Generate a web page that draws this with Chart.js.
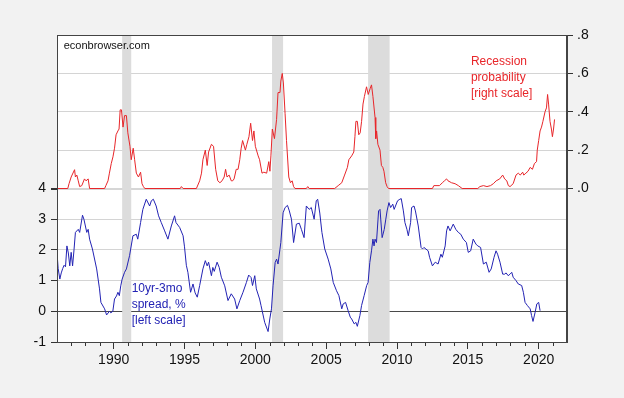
<!DOCTYPE html>
<html>
<head>
<meta charset="utf-8">
<script src="https://cdn.jsdelivr.net/npm/chart.js@4"></script>
<style>
  body { margin: 0; background: #f2f2f2; }
  #wrap { width: 624px; height: 398px; }
</style>
</head>
<body>
<div id="wrap"><canvas id="chart" width="624" height="398"></canvas></div>
<script>
// 10yr-3mo spread (left scale)
var spreadYears = [1986.0, 1986.08, 1986.2, 1986.3, 1986.4, 1986.5, 1986.6, 1986.7, 1986.8, 1986.9,
  1987.0, 1987.1, 1987.2, 1987.3, 1987.5, 1987.6, 1987.8, 1987.9, 1988.1, 1988.2,
  1988.3, 1988.5, 1988.8, 1989.0, 1989.1, 1989.36, 1989.5, 1989.7, 1989.8, 1989.94,
  1990.06, 1990.2, 1990.3, 1990.4, 1990.5, 1990.6, 1990.77, 1990.9, 1991.12, 1991.36,
  1991.6, 1991.7, 1991.9, 1992.06, 1992.3, 1992.54, 1992.66, 1992.8, 1993.0, 1993.17,
  1993.36, 1993.6, 1993.83, 1994.07, 1994.3, 1994.4, 1994.66, 1994.9, 1995.0, 1995.13,
  1995.24, 1995.43, 1995.6, 1995.75, 1995.9, 1996.07, 1996.3, 1996.47, 1996.6, 1996.7,
  1996.9, 1997.0, 1997.1, 1997.3, 1997.45, 1997.6, 1997.84, 1998.07, 1998.3, 1998.54,
  1998.7, 1998.9, 1999.13, 1999.37, 1999.53, 1999.7, 1999.8, 1999.96, 2000.07, 2000.3,
  2000.4, 2000.66, 2000.9, 2001.02, 2001.14, 2001.25, 2001.4, 2001.5, 2001.6, 2001.8,
  2001.96, 2002.1, 2002.27, 2002.4, 2002.55, 2002.7, 2002.9, 2003.1, 2003.25, 2003.44,
  2003.6, 2003.8, 2003.95, 2004.15, 2004.3, 2004.4, 2004.55, 2004.7, 2004.9, 2005.14,
  2005.33, 2005.5, 2005.73, 2005.9, 2006.1, 2006.2, 2006.37, 2006.55, 2006.7, 2006.8,
  2006.98, 2007.1, 2007.2, 2007.38, 2007.5, 2007.68, 2007.86, 2007.96, 2008.08, 2008.2,
  2008.3, 2008.38, 2008.45, 2008.55, 2008.7, 2008.8, 2008.95, 2009.1, 2009.3, 2009.43,
  2009.55, 2009.7, 2009.8, 2010.04, 2010.2, 2010.3, 2010.45, 2010.56, 2010.7, 2010.8,
  2010.96, 2011.03, 2011.2, 2011.3, 2011.5, 2011.7, 2011.8, 2011.9, 2012.2, 2012.3,
  2012.5, 2012.7, 2012.9, 2013.1, 2013.2, 2013.4, 2013.5, 2013.6, 2013.75, 2013.97,
  2014.15, 2014.33, 2014.5, 2014.68, 2014.9, 2015.03, 2015.2, 2015.38, 2015.57, 2015.7,
  2015.9, 2016.1, 2016.3, 2016.5, 2016.65, 2016.85, 2016.99, 2017.1, 2017.27, 2017.46,
  2017.6, 2017.7, 2017.85, 2017.98, 2018.1, 2018.2, 2018.4, 2018.56, 2018.8, 2018.92,
  2019.04, 2019.2, 2019.4, 2019.5, 2019.6, 2019.75, 2019.87, 2020.0, 2020.1];
var spreadValues = [1.92, 1.4, 1.05, 1.25, 1.39, 1.5, 1.45, 2.13, 1.9, 1.48,
  1.92, 1.48, 2.0, 2.57, 2.67, 2.57, 3.13, 3.0, 2.57, 2.67,
  2.35, 2.03, 1.38, 0.73, 0.29, 0.08, -0.12, 0.0, -0.05, 0.0,
  0.40, 0.5, 0.62, 0.51, 0.83, 1.05, 1.27, 1.38, 1.81, 2.46,
  2.51, 2.35, 2.89, 3.32, 3.65, 3.43, 3.6, 3.65, 3.43, 3.11,
  2.89, 2.62, 2.35, 2.78, 3.11, 2.89, 2.73, 2.46, 2.1, 1.5,
  1.27, 0.62, 0.89, 0.6, 0.46, 0.84, 1.38, 1.65, 1.48, 1.6,
  1.16, 1.43, 1.3, 1.6, 1.43, 1.11, 0.83, 0.35, 0.57, 0.40,
  0.08, 0.35, 0.62, 0.94, 1.18, 1.1, 0.84, 1.16, 0.73, 0.40,
  0.19, -0.36, -0.66, -0.25, 0.08, 0.83, 1.59, 1.7, 1.54, 2.24,
  3.21, 3.38, 3.45, 3.27, 3.0, 2.24, 2.84, 2.87, 2.67, 2.4,
  3.43, 3.32, 3.38, 3.0, 3.6, 3.65, 3.2, 2.57, 2.03, 1.7,
  1.38, 0.94, 0.67, 0.51, 0.08, 0.24, 0.29, 0.02, -0.19, -0.25,
  -0.41, -0.36, -0.49, -0.14, 0.19, 0.51, 0.84, 0.94, 1.59, 1.97,
  2.35, 2.13, 2.35, 2.24, 3.27, 3.32, 2.4, 2.67, 3.27, 3.54,
  3.38, 3.49, 3.32, 3.6, 3.65, 3.67, 3.27, 2.89, 2.67, 2.46,
  2.89, 3.38, 3.43, 3.27, 2.78, 2.08, 2.03, 2.08, 1.97, 1.76,
  1.48, 1.6, 1.54, 1.86, 1.76, 2.13, 2.62, 2.78, 2.62, 2.84,
  2.67, 2.57, 2.51, 2.35, 2.24, 1.92, 1.97, 2.35, 2.19, 2.13,
  2.08, 1.54, 1.6, 1.27, 1.38, 1.76, 1.97, 1.86, 1.6, 1.21,
  1.21, 1.25, 1.16, 1.21, 1.27, 1.11, 1.0, 0.89, 0.84, 0.62,
  0.29, 0.19, 0.08, -0.14, -0.33, -0.03, 0.24, 0.29, 0.02];

// recession probability (right scale)
var probYears = [1986.0, 1986.76, 1986.85, 1987.0, 1987.24, 1987.3, 1987.4, 1987.5, 1987.6, 1987.75,
  1987.94, 1988.05, 1988.2, 1988.3, 1989.36, 1989.45, 1989.6, 1989.7, 1989.83, 1989.95,
  1990.06, 1990.17, 1990.3, 1990.38, 1990.46, 1990.55, 1990.66, 1990.77, 1990.9, 1991.0,
  1991.15, 1991.24, 1991.38, 1991.48, 1991.6, 1991.75, 1991.9, 1992.0, 1992.1, 1992.2,
  1994.7, 1994.78, 1994.9, 1995.84, 1996.07, 1996.2, 1996.3, 1996.47, 1996.6, 1996.7,
  1996.9, 1997.05, 1997.2, 1997.35, 1997.5, 1997.65, 1997.8, 1997.9, 1998.0, 1998.15,
  1998.3, 1998.4, 1998.5, 1998.65, 1998.78, 1998.9, 1999.0, 1999.1, 1999.3, 1999.4,
  1999.55, 1999.67, 1999.8, 1999.9, 2000.0, 2000.2, 2000.3, 2000.47, 2000.6, 2000.8,
  2000.95, 2001.03, 2001.1, 2001.2, 2001.35, 2001.5, 2001.6, 2001.74, 2001.8, 2001.9,
  2001.98, 2002.1, 2002.2, 2002.36, 2002.48, 2002.6, 2002.7, 2002.8, 2003.6, 2003.7,
  2003.8, 2005.6, 2005.85, 2006.1, 2006.3, 2006.5, 2006.6, 2006.8, 2006.95, 2007.03,
  2007.1, 2007.2, 2007.3, 2007.4, 2007.5, 2007.6, 2007.7, 2007.85, 2007.97, 2008.1,
  2008.2, 2008.3, 2008.45, 2008.5, 2008.56, 2008.65, 2008.8, 2008.9, 2009.0, 2009.08,
  2009.2, 2009.3, 2009.4, 2012.5, 2012.6, 2013.0, 2013.2, 2013.35, 2013.5, 2013.6,
  2013.85, 2014.1, 2014.33, 2014.6, 2015.7, 2015.85, 2016.1, 2016.35, 2016.6, 2016.8,
  2017.0, 2017.25, 2017.46, 2017.6, 2017.75, 2017.86, 2017.98, 2018.2, 2018.4, 2018.56,
  2018.7, 2018.87, 2018.95, 2019.1, 2019.25, 2019.4, 2019.56, 2019.7, 2019.85, 2019.9,
  2020.0, 2020.1, 2020.2, 2020.3, 2020.45, 2020.55, 2020.63, 2020.7, 2020.8, 2020.9,
  2020.97, 2021.05, 2021.12];
var probValues = [0, 0, 0.025, 0.06, 0.098, 0.06, 0.07, 0.04, 0.01, 0.015,
  0.05, 0.04, 0.05, 0, 0, 0.015, 0.04, 0.08, 0.13, 0.165,
  0.21, 0.28, 0.30, 0.31, 0.41, 0.41, 0.32, 0.38, 0.38, 0.29,
  0.22, 0.15, 0.21, 0.15, 0.08, 0.06, 0.085, 0.025, 0.01, 0,
  0, 0.01, 0, 0, 0.04, 0.08, 0.15, 0.2, 0.12, 0.19,
  0.23, 0.22, 0.10, 0.04, 0.03, 0.04, 0.06, 0.1, 0.06, 0.07,
  0.04, 0.04, 0.05, 0.1, 0.1, 0.15, 0.21, 0.25, 0.2, 0.23,
  0.27, 0.34, 0.25, 0.30, 0.22, 0.17, 0.15, 0.08, 0.085, 0.08,
  0.14, 0.09, 0.17, 0.31, 0.26, 0.36, 0.50, 0.50, 0.56, 0.60,
  0.55, 0.39, 0.25, 0.06, 0.03, 0.04, 0.01, 0, 0, 0.01,
  0, 0, 0.015, 0.03, 0.07, 0.11, 0.15, 0.17, 0.19, 0.27,
  0.35, 0.35, 0.28, 0.29, 0.35, 0.44, 0.48, 0.53, 0.49, 0.52,
  0.54, 0.48, 0.37, 0.26, 0.30, 0.23, 0.20, 0.12, 0.11, 0.09,
  0.03, 0.01, 0, 0, 0.015, 0.015, 0.03, 0.04, 0.05, 0.04,
  0.03, 0.025, 0.015, 0, 0, 0.01, 0.015, 0.01, 0.015, 0.025,
  0.04, 0.05, 0.07, 0.05, 0.04, 0.015, 0.01, 0.025, 0.07, 0.08,
  0.07, 0.085, 0.07, 0.08, 0.09, 0.11, 0.10, 0.13, 0.14, 0.2,
  0.25, 0.3, 0.32, 0.35, 0.40, 0.42, 0.49, 0.44, 0.35, 0.31,
  0.27, 0.31, 0.36];

// NBER recessions (shaded)
var recessionStarts = [1990.6, 2001.18, 2007.96];
var recessionEnds = [1991.24, 2001.96, 2009.48];

var leftTicks = [-1, 0, 1, 2, 3, 4];
var rightTicks = [0, 0.2, 0.4, 0.6, 0.8];

var redNote = ['Recession', 'probability', '[right scale]'];
var blueNote = ['10yr-3mo', 'spread, %', '[left scale]'];

var blue = '#2323b4';
var red = '#e8262a';
var font = 'Liberation Sans, Arial, sans-serif';

var decor = {
  id: 'decor',
  beforeDraw: function (chart) {
    var a = chart.chartArea, c = chart.ctx;
    c.save();
    c.fillStyle = '#ffffff';
    c.fillRect(a.left, a.top, a.right - a.left, a.bottom - a.top);
    c.restore();
  },
  beforeDatasetsDraw: function (chart) {
    var a = chart.chartArea, c = chart.ctx, x = chart.scales.x;
    c.save();
    c.fillStyle = '#dcdcdc';
    for (var i = 0; i < recessionStarts.length; i++) {
      var x0 = x.getPixelForValue(recessionStarts[i]);
      var x1 = x.getPixelForValue(recessionEnds[i]);
      c.fillRect(x0, a.top, x1 - x0, a.bottom - a.top);
    }
    // short minor ticks every year
    c.strokeStyle = '#333';
    c.lineWidth = 1;
    c.beginPath();
    for (var y = 1987; y < 2022; y++) {
      if (y % 5 === 0) continue;
      var px = Math.round(x.getPixelForValue(y)) + 0.5;
      c.moveTo(px, a.bottom);
      c.lineTo(px, a.bottom + 4);
    }
    c.stroke();
    c.restore();
  },
  afterDatasetsDraw: function (chart) {
    var a = chart.chartArea, c = chart.ctx;
    var x = chart.scales.x, yL = chart.scales.yL, yR = chart.scales.yR;
    c.save();
    c.strokeStyle = '#444';
    c.lineWidth = 1;
    c.strokeRect(a.left + 0.5, a.top + 0.5, a.right - a.left - 1, a.bottom - a.top);

    c.textBaseline = 'middle';
    c.textAlign = 'left';
    c.font = '11px ' + font;
    c.fillStyle = '#111';
    c.fillText('econbrowser.com', x.getPixelForValue(1986.47), yR.getPixelForValue(0.745));

    c.font = '12px ' + font;
    c.fillStyle = red;
    var ry = yR.getPixelForValue(0.661);
    redNote.forEach(function (t, i) {
      c.fillText(t, x.getPixelForValue(2015.22), ry + i * 15.8);
    });
    c.fillStyle = blue;
    var by = yL.getPixelForValue(0.725);
    blueNote.forEach(function (t, i) {
      c.fillText(t, x.getPixelForValue(1991.27), by + i * 16);
    });
    c.restore();
  }
};

var spreadPoints = spreadYears.map(function (t, i) { return { x: t, y: spreadValues[i] }; });
var probPoints = probYears.map(function (t, i) { return { x: t, y: probValues[i] }; });

new Chart(document.getElementById('chart'), {
  type: 'line',
  data: {
    datasets: [{
      label: '10yr-3mo spread, %',
      data: spreadPoints,
      borderColor: blue,
      borderWidth: 1,
      pointRadius: 0,
      tension: 0,
      yAxisID: 'yL'
    }, {
      label: 'Recession probability',
      data: probPoints,
      borderColor: red,
      borderWidth: 1,
      pointRadius: 0,
      tension: 0,
      yAxisID: 'yR'
    }]
  },
  options: {
    responsive: false,
    animation: false,
    layout: { padding: { top: 35, left: 0, right: 0, bottom: 0 } },
    plugins: { legend: { display: false }, tooltip: { enabled: false } },
    scales: {
      x: {
        type: 'linear',
        min: 1986,
        max: 2022,
        afterFit: function (s) { s.height = 56; },
        border: { color: '#444' },
        grid: {
          drawOnChartArea: false,
          tickLength: 7,
          tickColor: function (ctx) { return ctx.tick && ctx.tick.value % 5 === 0 ? '#333' : 'rgba(0,0,0,0)'; }
        },
        ticks: {
          stepSize: 1,
          autoSkip: false,
          maxRotation: 0,
          padding: 3,
          color: '#111',
          font: { family: font, size: 14 },
          callback: function (v) { return v % 5 === 0 ? String(v) : ''; }
        }
      },
      yL: {
        position: 'left',
        min: -1,
        max: 9,
        afterFit: function (s) { s.width = 57; },
        afterBuildTicks: function (s) { s.ticks = leftTicks.map(function (v) { return { value: v }; }); },
        border: { color: '#444' },
        grid: {
          tickLength: 6,
          tickColor: '#333',
          color: function (ctx) {
            var v = ctx.tick && ctx.tick.value;
            if (v === 0) return '#4a4a4a';
            if (v === 4) return '#d6d6d6';
            if (v === -1) return 'rgba(0,0,0,0)';
            return '#d4d4d4';
          },
          lineWidth: function (ctx) { return ctx.tick && ctx.tick.value === 4 ? 2 : 1; }
        },
        ticks: {
          padding: 5,
          color: '#111',
          font: { family: font, size: 14 },
          callback: function (v) { return String(v); }
        }
      },
      yR: {
        position: 'right',
        min: -0.8,
        max: 0.8,
        afterFit: function (s) { s.width = 57; },
        afterBuildTicks: function (s) { s.ticks = rightTicks.map(function (v) { return { value: v }; }); },
        border: { color: '#444' },
        grid: {
          tickLength: 6,
          tickColor: '#333',
          color: function (ctx) {
            var v = ctx.tick && ctx.tick.value;
            return (v > 0.1 && v < 0.7) ? '#d4d4d4' : 'rgba(0,0,0,0)';
          }
        },
        ticks: {
          padding: 4,
          color: '#111',
          font: { family: font, size: 14 },
          callback: function (v) { return v.toFixed(1).replace('0.', '.'); }
        }
      }
    }
  },
  plugins: [decor]
});
</script>
</body>
</html>
